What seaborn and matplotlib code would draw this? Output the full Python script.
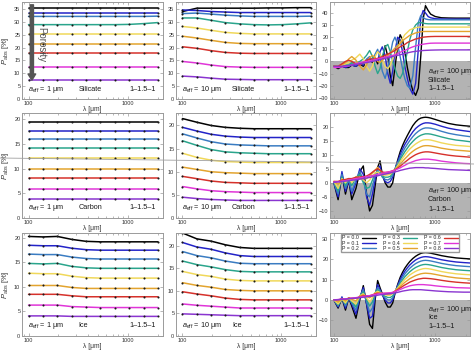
import numpy as np
import pandas as pd
import seaborn as sns
import matplotlib.pyplot as plt
from matplotlib.lines import Line2D
from matplotlib.ticker import LogLocator, NullFormatter, MultipleLocator

P_LABELS = ['0.0', '0.1', '0.2', '0.3', '0.4', '0.5', '0.6', '0.7', '0.8']
COLORS = ['#000000', '#2323c8', '#3a7cc2', '#2aa58c', '#f0d85a', '#e3a42e',
          '#d6312b', '#e035d8', '#8a35d0']

# wavelengths of the a_eff = 1 and 10 um runs (markers)
lam_coarse = [100, 140, 195, 271, 379, 528, 737, 1028, 1433, 2000]
# wavelengths of the a_eff = 100 um runs
lam_fine = [100, 110, 120, 130, 140, 150, 165, 180, 195, 210,
            225, 240, 255, 270, 285, 300, 320, 340, 360, 380,
            400, 425, 450, 475, 500, 530, 560, 600, 640, 680,
            720, 760, 800, 850, 900, 1000, 1150, 1350, 1600, 1900, 2200]

# ---- silicate ----
sil_1um = [
    [35.2, 35.2, 35.2, 35.2, 35.2, 35.2, 35.2, 35.2, 35.2, 35.2],
    [33.6, 33.6, 33.6, 33.6, 33.6, 33.6, 33.6, 33.6, 33.6, 33.6],
    [32.1, 32.1, 32.1, 32.1, 32.1, 32.1, 32.1, 32.1, 32.1, 32.2],
    [28.9, 28.9, 28.9, 28.9, 28.9, 28.9, 28.9, 29.0, 29.3, 29.7],
    [25.3, 25.3, 25.3, 25.3, 25.3, 25.3, 25.3, 25.3, 25.3, 25.3],
    [21.5, 21.5, 21.5, 21.5, 21.5, 21.5, 21.5, 21.5, 21.5, 21.5],
    [17.7, 17.7, 17.7, 17.7, 17.7, 17.7, 17.7, 17.7, 17.7, 17.7],
    [12.3, 12.3, 12.3, 12.3, 12.3, 12.3, 12.3, 12.3, 12.3, 12.3],
    [7.5, 7.5, 7.5, 7.5, 7.5, 7.5, 7.5, 7.5, 7.5, 7.5],
]
sil_10um = [
    [34.0, 35.3, 35.3, 35.3, 35.3, 35.3, 35.4, 35.4, 35.5, 35.5],
    [34.6, 34.4, 34.0, 33.8, 33.6, 33.6, 33.6, 33.6, 33.6, 33.6],
    [33.2, 33.4, 33.0, 32.6, 32.3, 32.1, 32.1, 32.1, 32.1, 32.2],
    [31.5, 31.5, 30.6, 29.7, 29.2, 28.9, 28.8, 28.9, 29.2, 29.6],
    [28.2, 27.6, 26.7, 25.9, 25.5, 25.3, 25.3, 25.3, 25.3, 25.3],
    [24.4, 23.7, 22.8, 22.0, 21.6, 21.5, 21.5, 21.5, 21.5, 21.5],
    [20.3, 19.7, 18.8, 18.1, 17.8, 17.7, 17.7, 17.7, 17.7, 17.7],
    [14.6, 14.0, 13.2, 12.6, 12.4, 12.3, 12.3, 12.3, 12.3, 12.3],
    [8.9, 8.6, 8.1, 7.7, 7.6, 7.5, 7.5, 7.5, 7.5, 7.5],
]
sil_100um = [
    [-4, -6, -4, -5, -5, -3, -4, -2, -4, 0, 2, -1, 3, -2, 6, 0, 13, 4, -12, -20,
     -5, 12, 22, 18, 8, -5, -15, -24, -28, -22, 5, 35, 46, 42, 39, 37, 36, 35.8, 35.7, 35.7, 35.7],
    [-4, -5, -4, -5, -4, -3, -4, -2, -3, 1, 2, 0, 3, 0, 8, 12, 5, -10, -18, -8,
     8, 20, 18, 8, -4, -14, -22, -27, -18, 10, 36, 42, 40, 37, 36, 35.2, 35, 34.9, 34.9, 34.9, 34.9],
    [-4, -5, -3, -4, -4, -2, -3, -1, -2, 2, 4, 1, 6, 10, 3, -8, -14, -6, 6, 16,
     20, 14, 4, -6, -14, -20, -22, -12, 12, 32, 38, 36, 35, 34.5, 34.3, 34.3, 34.3, 34.3, 34.3, 34.3, 34.3],
    [-4, -4, -3, -3, -3, -1, -2, 0, 2, 5, 9, 4, -4, -10, -6, 4, 12, 14, 8, 0,
     -6, -12, -14, -10, -2, 8, 18, 26, 30, 32, 32, 31.5, 31.2, 31, 31, 31, 31, 31, 31, 31, 31],
    [-4, -4, -3, -2, -1, 1, 3, 6, 2, -4, -8, -4, 4, 8, 6, 1, -4, -6, -3, 2,
     6, 11, 15, 19, 22, 24, 26, 27, 27.8, 28.2, 28.4, 28.4, 28.3, 28.3, 28.3, 28.3, 28.3, 28.3, 28.3, 28.3, 28.3],
    [-4, -4, -3, -1, 2, 4, 1, -4, -7, -3, 3, 5, 3, 0, -1, 1, 3, 5, 7, 9,
     11, 13, 15, 17, 18.5, 20, 21.5, 22.5, 23.5, 24, 24.5, 24.6, 24.7, 24.7, 24.7, 24.7, 24.7, 24.7, 24.7, 24.7, 24.7],
    [-4, -4, -2, 0, 1, 0, -2, -3, -1, 1, 2, 2, 2, 2.5, 3, 4, 5, 6, 7, 8,
     9, 10.5, 12, 13, 14, 15.5, 16.5, 17.5, 18.5, 19, 19.5, 20, 20.2, 20.4, 20.5, 20.6, 20.6, 20.6, 20.6, 20.6, 20.6],
    [-5, -5, -4.5, -4, -3.5, -3, -2, -1, -0.5, 0, 0.5, 1, 1.5, 2, 2.5, 3, 3.5, 4, 4.5, 5,
     5.5, 6.5, 7.5, 8.5, 9, 10, 11, 12, 12.8, 13.4, 13.9, 14.2, 14.5, 14.8, 15, 15.1, 15.1, 15.1, 15.1, 15.1, 15.1],
    [-4, -4, -4, -3.5, -3.5, -3, -2.5, -2, -1.5, -1, -0.5, 0, 0.5, 1, 1.5, 2, 2.5, 3, 3.5, 4,
     4.5, 5, 5.5, 6, 6.5, 7, 7.5, 8, 8.3, 8.6, 8.8, 9, 9.1, 9.2, 9.3, 9.4, 9.5, 9.5, 9.5, 9.5, 9.5],
]

# ---- carbon ----
car_1um = [
    [19.4, 19.4, 19.4, 19.4, 19.4, 19.4, 19.4, 19.4, 19.4, 19.4],
    [17.7, 17.7, 17.7, 17.7, 17.7, 17.7, 17.7, 17.7, 17.7, 17.7],
    [16.0, 16.0, 16.0, 16.0, 16.0, 16.0, 16.0, 16.0, 16.0, 16.0],
    [14.1, 14.1, 14.1, 14.1, 14.1, 14.1, 14.1, 14.1, 14.1, 14.1],
    [12.1, 12.1, 12.1, 12.1, 12.1, 12.1, 12.1, 12.1, 12.1, 12.1],
    [9.9, 9.9, 9.9, 9.9, 9.9, 9.9, 9.9, 9.9, 9.9, 9.9],
    [8.1, 8.1, 8.1, 8.1, 8.1, 8.1, 8.1, 8.1, 8.1, 8.1],
    [5.9, 5.9, 5.9, 5.9, 5.9, 5.9, 5.9, 5.9, 5.9, 5.9],
    [3.8, 3.8, 3.8, 3.8, 3.8, 3.8, 3.8, 3.8, 3.8, 3.8],
]
car_10um = [
    [21.5, 20.7, 20.0, 19.6, 19.4, 19.3, 19.3, 19.3, 19.3, 19.3],
    [19.6, 18.8, 18.1, 17.7, 17.5, 17.4, 17.4, 17.4, 17.4, 17.4],
    [18.2, 17.3, 16.5, 16.0, 15.8, 15.7, 15.6, 15.6, 15.6, 15.6],
    [16.7, 15.7, 14.8, 14.3, 14.1, 14.0, 13.9, 13.9, 13.9, 13.9],
    [14.0, 13.1, 12.5, 12.2, 12.1, 12.0, 12.0, 12.0, 12.0, 12.0],
    [11.0, 10.5, 10.0, 9.8, 9.7, 9.6, 9.6, 9.6, 9.6, 9.6],
    [9.0, 8.5, 8.0, 7.7, 7.6, 7.5, 7.5, 7.5, 7.5, 7.5],
    [6.8, 6.3, 5.9, 5.7, 5.6, 5.5, 5.5, 5.5, 5.5, 5.5],
    [4.5, 4.2, 4.0, 3.9, 3.8, 3.8, 3.8, 3.8, 3.8, 3.8],
]
car_100um = [
    [0, -6, 3, -4, 1, -6, -2, 4, 6, -4, -10, -8, -1, 5.5, 7.8, 3, 0, -1.5, -1.5, 0,
     4.5, 8, 11, 13.2, 15, 16.8, 18.4, 20.3, 21.6, 22.5, 23.0, 23.2, 23.3, 23.2, 23.0, 22.5, 21.8, 21.1, 20.6, 20.3, 20.1],
    [0, -5, 4, -3, 1, -4, 0, 5, 3, -5, -8, -4, 1, 5, 6, 2.5, 0.5, 0, 0.5, 2,
     4.8, 7.5, 10, 12, 13.6, 15.1, 16.5, 18.1, 19.3, 20.1, 20.7, 21.1, 21.3, 21.3, 21.2, 20.8, 20.1, 19.4, 18.9, 18.5, 18.2],
    [0, -4, 3, -2, 1, -3, 1, 4, 1, -4, -5, -1, 2.5, 4.5, 4.5, 2, 1.2, 1, 1.5, 3,
     4.8, 7, 9, 10.8, 12.3, 13.7, 15, 16.4, 17.5, 18.3, 18.9, 19.3, 19.5, 19.5, 19.4, 19, 18.3, 17.6, 17.1, 16.7, 16.4],
    [0.3, -3, 2, -1, 1.5, -1, 2, 3, 0, -2, -1.5, 1, 3.5, 4, 3.5, 2.3, 2, 2, 2.3, 3.5,
     4.8, 6.5, 8.2, 9.7, 11, 12.3, 13.5, 14.7, 15.7, 16.4, 16.9, 17.2, 17.4, 17.4, 17.3, 16.9, 16.3, 15.7, 15.2, 14.9, 14.6],
    [0.5, -2, 1.5, 0, 1.5, 0, 2, 2, 1, 0, 1, 2.5, 3.5, 3.8, 3.2, 2.8, 2.7, 2.8, 3, 3.8,
     4.7, 6, 7.4, 8.7, 9.8, 11, 12, 13, 13.8, 14.4, 14.9, 15.2, 15.3, 15.3, 15.2, 14.8, 14.2, 13.7, 13.3, 13.1, 12.9],
    [0.5, -0.5, 1, 0.8, 1.5, 1, 2, 1.5, 1.5, 1.5, 2.5, 3.5, 4.5, 5.5, 4.5, 3.5, 3.2, 3.3, 3.5, 4,
     4.6, 5.6, 6.6, 7.6, 8.5, 9.4, 10.3, 11.2, 11.9, 12.4, 12.8, 13.1, 13.2, 13.2, 13.1, 12.8, 12.3, 11.9, 11.6, 11.4, 11.2],
    [0.5, 0.5, 1, 1.2, 1.5, 1.5, 2, 2, 2.2, 2.4, 3, 3.8, 4.5, 5, 4.5, 3.8, 3.7, 3.8, 4, 4.3,
     4.6, 5.2, 5.9, 6.6, 7.3, 8, 8.7, 9.4, 10, 10.4, 10.7, 10.9, 11, 11, 10.9, 10.6, 10.2, 9.8, 9.5, 9.3, 9.1],
    [0.3, 0.4, 0.6, 0.8, 1, 1.2, 1.5, 1.7, 2, 2.2, 2.4, 2.6, 2.8, 3, 3.2, 3.4, 3.6, 3.8, 4, 4.2,
     4.5, 4.9, 5.3, 5.8, 6.2, 6.7, 7.1, 7.5, 7.9, 8.1, 8.3, 8.4, 8.4, 8.4, 8.3, 8.1, 7.7, 7.4, 7.1, 6.9, 6.8],
    [0.2, 0.3, 0.4, 0.6, 0.7, 0.9, 1.1, 1.3, 1.5, 1.7, 1.9, 2.1, 2.3, 2.5, 2.7, 2.9, 3.1, 3.3, 3.5, 3.7,
     3.9, 4.1, 4.4, 4.6, 4.8, 5, 5.2, 5.3, 5.4, 5.4, 5.4, 5.4, 5.3, 5.3, 5.2, 5.1, 4.9, 4.7, 4.6, 4.5, 4.4],
]

# ---- ice ----
ice_1um = [
    [20.3, 20.2, 20.3, 19.7, 19.3, 19.2, 19.2, 19.2, 19.2, 19.2],
    [18.5, 18.4, 18.4, 17.9, 17.6, 17.5, 17.5, 17.5, 17.5, 17.5],
    [16.7, 16.6, 16.6, 16.1, 15.8, 15.7, 15.7, 15.7, 15.7, 15.7],
    [14.8, 14.7, 14.8, 14.2, 13.9, 13.8, 13.8, 13.8, 13.8, 13.8],
    [12.8, 12.7, 12.7, 12.2, 11.9, 11.8, 11.8, 11.8, 11.8, 11.8],
    [10.3, 10.3, 10.3, 9.9, 9.7, 9.7, 9.7, 9.7, 9.7, 9.7],
    [8.5, 8.5, 8.5, 8.2, 8.0, 8.0, 8.0, 8.0, 8.0, 8.0],
    [6.3, 6.3, 6.3, 6.0, 5.9, 5.8, 5.8, 5.8, 5.8, 5.8],
    [4.1, 4.1, 4.1, 4.0, 4.0, 4.0, 4.0, 4.0, 4.0, 4.0],
]
ice_10um = [
    [22.8, 21.5, 21.0, 20.2, 19.6, 19.4, 19.4, 19.4, 19.4, 19.4],
    [20.7, 19.7, 19.2, 18.4, 17.8, 17.6, 17.6, 17.6, 17.6, 17.6],
    [18.7, 17.8, 17.3, 16.6, 16.1, 16.0, 16.0, 16.0, 16.0, 16.0],
    [16.6, 15.8, 15.3, 14.7, 14.3, 14.2, 14.2, 14.2, 14.2, 14.2],
    [14.3, 13.6, 13.2, 12.6, 12.3, 12.2, 12.2, 12.2, 12.2, 12.2],
    [11.8, 11.2, 10.8, 10.3, 10.1, 10.0, 10.0, 10.0, 10.0, 10.0],
    [9.8, 9.3, 8.9, 8.4, 8.1, 8.0, 8.0, 8.0, 8.0, 8.0],
    [7.1, 6.8, 6.6, 6.4, 6.2, 6.2, 6.2, 6.2, 6.2, 6.2],
    [4.9, 4.8, 4.7, 4.6, 4.5, 4.5, 4.5, 4.5, 4.5, 4.5],
]
ice_100um = [
    [0, -4, 1, -5, 1, -3, -9, 0, 7, -2, -12, -14, 0, 9.5, 6, 3, -1, -3.5, -3.5, -1.5,
     3, 7.5, 11, 13.5, 15.5, 17.3, 18.8, 20.3, 21.4, 22.2, 22.8, 23.1, 23.2, 23.1, 22.9, 22.4, 21.7, 21.1, 20.6, 20.3, 20.1],
    [0, -3.5, 1.5, -4, 1, -2, -7, 1, 6, -2, -9, -8, 2, 7.5, 5, 2.5, 0, -1.5, -1.5, 0,
     3.5, 7, 10, 12.2, 14, 15.7, 17.1, 18.5, 19.6, 20.3, 20.8, 21.1, 21.2, 21.1, 20.9, 20.4, 19.7, 19.1, 18.6, 18.3, 18.1],
    [0, -3, 1, -3, 1, -1.5, -5, 1.5, 5, -1, -6, -4, 3, 6, 4.5, 2.5, 1, 0, 0, 1,
     3.7, 6.5, 9, 11, 12.7, 14.2, 15.5, 16.8, 17.8, 18.5, 19, 19.3, 19.4, 19.3, 19.1, 18.6, 17.9, 17.3, 16.8, 16.5, 16.3],
    [0, -2.5, 0.5, -2, 1, -1, -3.5, 2, 4, 0, -3, -1, 3.5, 5, 4, 2.8, 1.8, 1.2, 1.2, 2,
     4, 6, 8, 9.8, 11.3, 12.6, 13.8, 15, 15.9, 16.5, 17, 17.3, 17.4, 17.3, 17.1, 16.6, 15.9, 15.3, 14.8, 14.5, 14.3],
    [0, -2, 0.5, -1.5, 1, -0.5, -2, 2, 3, 1, -1, 1, 3.5, 4.2, 3.6, 3, 2.5, 2.2, 2.3, 3,
     4.3, 5.8, 7.3, 8.8, 10, 11.1, 12.2, 13.2, 14, 14.6, 15, 15.3, 15.4, 15.3, 15.1, 14.6, 13.9, 13.3, 12.8, 12.5, 12.3],
    [0, -1, 0.5, -0.5, 1, 0.3, -0.5, 1.8, 2.5, 1.8, 1, 2, 3.2, 3.6, 3.3, 3.1, 2.9, 2.8, 2.9, 3.4,
     4.3, 5.4, 6.5, 7.6, 8.6, 9.5, 10.4, 11.2, 11.9, 12.4, 12.8, 13, 13.1, 13, 12.9, 12.5, 11.9, 11.3, 10.8, 10.5, 10.3],
    [0, 0, 0.5, 0.3, 0.8, 0.8, 0.8, 1.5, 2, 2, 2, 2.5, 3, 3.2, 3.2, 3.2, 3.2, 3.2, 3.3, 3.6,
     4.2, 5, 5.8, 6.6, 7.3, 8, 8.7, 9.3, 9.8, 10.2, 10.4, 10.6, 10.6, 10.5, 10.4, 10.1, 9.6, 9.1, 8.7, 8.4, 8.2],
    [0, 0.2, 0.4, 0.5, 0.7, 0.9, 1.1, 1.4, 1.7, 1.9, 2.1, 2.4, 2.7, 2.9, 3.1, 3.2, 3.3, 3.4, 3.5, 3.7,
     4.1, 4.6, 5.1, 5.6, 6.1, 6.5, 6.9, 7.2, 7.4, 7.5, 7.5, 7.5, 7.4, 7.3, 7.2, 6.9, 6.6, 6.3, 6, 5.9, 5.8],
    [0, 0.1, 0.3, 0.4, 0.6, 0.7, 0.9, 1.1, 1.3, 1.5, 1.7, 1.9, 2.1, 2.3, 2.5, 2.6, 2.8, 2.9, 3, 3.2,
     3.4, 3.7, 4, 4.3, 4.5, 4.7, 4.9, 5, 5, 5, 5, 4.9, 4.8, 4.7, 4.6, 4.4, 4.2, 4, 3.9, 3.8, 3.8],
]

materials = ['Silicate', 'Carbon', 'Ice']
sizes = ['1', '10', '100']
panel_data = [[sil_1um, sil_10um, sil_100um],
              [car_1um, car_10um, car_100um],
              [ice_1um, ice_10um, ice_100um]]
ylims = [[(0, 37.7), (0, 37.7), (-31, 49)],
         [(0, 21.3), (0, 22.7), (-12.5, 24.8)],
         [(0, 21.0), (0, 22.8), (-17.7, 32.8)]]
ysteps = [[5, 5, 10], [5, 5, 5], [5, 5, 10]]


def long_df(lam, curves):
    rows = []
    for lab, c in zip(P_LABELS, curves):
        assert len(c) == len(lam)
        rows += [(l, lab, v) for l, v in zip(lam, c)]
    return pd.DataFrame(rows, columns=['lam', 'P', 'val'])


sns.set_theme(style='ticks')
plt.rcParams['font.family'] = ['Liberation Sans', 'DejaVu Sans']
plt.rcParams['mathtext.fontset'] = 'custom'
plt.rcParams['mathtext.rm'] = 'Liberation Sans'
plt.rcParams['mathtext.it'] = 'Liberation Sans:italic'

W, H = 474, 351
fig = plt.figure(figsize=(W / 100, H / 100), dpi=100)
cols = [(22, 163), (176, 316), (330, 470)]
rows_px = [(2, 99), (113, 218), (233, 336)]
palette = dict(zip(P_LABELS, COLORS))
frame = '#9a9a9a'
txt = '#1a1a1a'
fs = 5.2

for r in range(3):
    for c in range(3):
        x0, x1 = cols[c]
        y0, y1 = rows_px[r]
        ax = fig.add_axes([x0 / W, 1 - y1 / H, (x1 - x0) / W, (y1 - y0) / H])
        fine = c == 2
        lam = lam_fine if fine else lam_coarse
        df = long_df(lam, panel_data[r][c])
        kw = {} if fine else dict(marker='o', markersize=1.5, markerfacecolor='k',
                                  markeredgecolor='k', markeredgewidth=0)
        sns.lineplot(data=df, x='lam', y='val', hue='P', hue_order=P_LABELS,
                     palette=palette, estimator=None, sort=False, legend=False,
                     linewidth=1.0 if fine else 1.1, ax=ax, **kw)
        ax.set_xscale('log')
        ax.set_xlim((91.5, 2200) if fine else (86, 2250))
        ax.set_ylim(*ylims[r][c])
        ax.yaxis.set_major_locator(MultipleLocator(ysteps[r][c]))
        ax.set_xticks([100, 1000])
        ax.set_xticklabels(['100', '1000'])
        ax.xaxis.set_minor_locator(LogLocator(base=10, subs=np.arange(2, 10)))
        ax.xaxis.set_minor_formatter(NullFormatter())
        ax.tick_params(which='both', direction='in', top=True, right=True,
                       colors=frame, labelcolor='#333333', labelsize=4, pad=1.2,
                       width=0.5)
        ax.tick_params(which='major', length=2.5)
        ax.tick_params(which='minor', length=1.3)
        for s in ax.spines.values():
            s.set_color(frame)
            s.set_linewidth(0.7)
        ax.set_xlabel('λ [μm]', fontsize=4.8, labelpad=0.5, color='#333333')
        if c == 0:
            ax.set_ylabel(r'$P_{\rm abs}$ [%]', fontsize=5.5, labelpad=2, color='#333333')
        else:
            ax.set_ylabel('')

        if fine:
            ax.axhspan(ylims[r][c][0], 0, color='#b3b3b3', lw=0, zorder=0)
            ty = [[0.28, 0.195, 0.105], [0.26, 0.178, 0.085], [0.26, 0.18, 0.09]][r]
            for t, yy in zip([r'$a_{\rm eff}$ = 100 μm', materials[r], '1–1.5–1'], ty):
                ax.text(0.70, yy, t, transform=ax.transAxes, fontsize=fs,
                        ha='left', va='center', color=txt)
        else:
            ty = 0.1
            ax.text(0.045, ty, r'$a_{\rm eff}$ = %s μm' % sizes[c], transform=ax.transAxes,
                    fontsize=fs, ha='left', va='center', color=txt)
            ax.text(0.40, ty, materials[r], transform=ax.transAxes,
                    fontsize=fs, ha='left', va='center', color=txt)
            ax.text(0.765, ty, '1–1.5–1', transform=ax.transAxes,
                    fontsize=fs, ha='left', va='center', color=txt)

        if r == 0 and c == 0:
            ax.annotate('', xy=(0.07, 7.3), xytext=(0.07, 36.6),
                        xycoords=('axes fraction', 'data'),
                        textcoords=('axes fraction', 'data'),
                        arrowprops=dict(facecolor='#555555', edgecolor='#555555',
                                        width=2.3, headwidth=5.5, headlength=4.5, shrink=0))
            ax.text(0.135, 21, 'Porosity', transform=ax.get_yaxis_transform(),
                    rotation=-90, fontsize=7, color='#555555', ha='center', va='center')

        if r == 2 and c == 2:
            handles = ax.get_lines()[:9]
            ax.legend(handles, ['P = ' + p for p in P_LABELS], ncol=3, loc='upper center',
                      bbox_to_anchor=(0.5, 1.0), fontsize=3.8, markerfirst=False,
                      frameon=True, fancybox=False, edgecolor='#999999',
                      handlelength=2.6, handletextpad=0.6, columnspacing=1.4,
                      labelspacing=0.05, borderpad=0.25, borderaxespad=0.2,
                      framealpha=1)

fig.add_artist(Line2D([0, 1], [1 - 158 / H, 1 - 164 / H], transform=fig.transFigure,
                      color='#a0a0a0', lw=0.6))

fig.savefig('out.png', dpi=100)
